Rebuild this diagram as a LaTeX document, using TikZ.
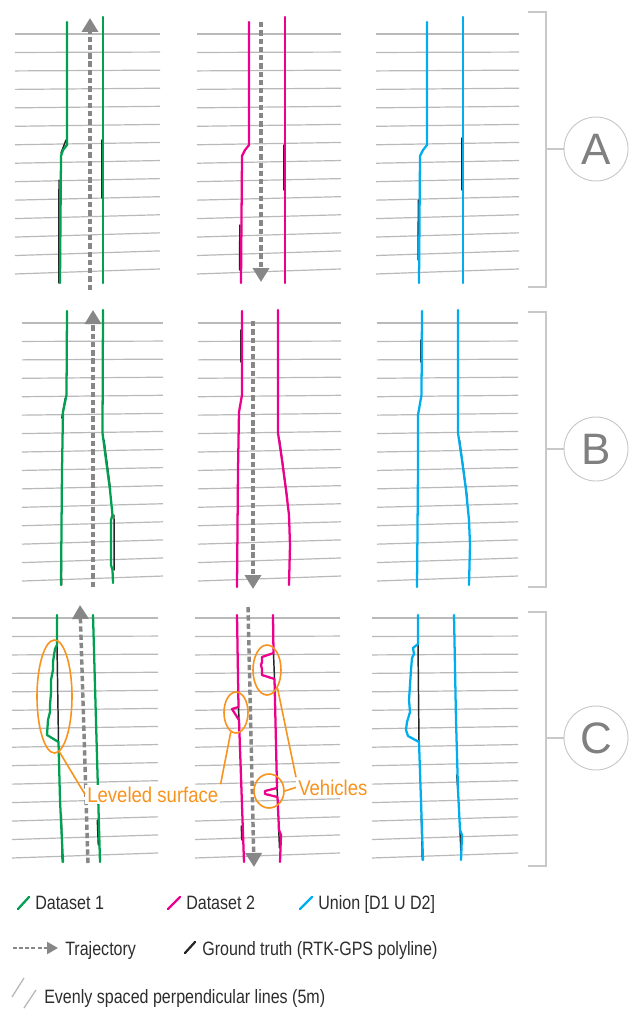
\documentclass[tikz,border=0pt]{standalone}
\usepackage{fontspec}
\setmainfont{Liberation Sans}
\newfontfamily\legfont[FakeStretch=0.83]{Liberation Sans}
\newfontfamily\labfont[FakeStretch=0.87]{Liberation Sans}
\usetikzlibrary{arrows.meta,shapes.geometric}
\definecolor{cgreen}{RGB}{0,160,80}
\definecolor{cmag}{RGB}{236,0,140}
\definecolor{cblue}{RGB}{0,174,239}
\definecolor{corange}{RGB}{247,147,30}
\definecolor{cgrid}{RGB}{185,185,185}
\definecolor{ctraj}{RGB}{135,135,135}
\definecolor{ctext}{RGB}{45,45,45}
\definecolor{cletter}{RGB}{128,128,128}
\definecolor{cbrk}{RGB}{200,200,200}
\newcommand{\gridrows}[5]{%
  \foreach \i in {0,...,#4} {\draw[gridl] (#1,{#3+#5*\i}) -- (#2,{#3+#5*\i-5*\i/#4});}}
\tikzset{
  gridl/.style={draw=cgrid, line width=0.9pt},
  trk/.style={line width=1.7pt, line join=round, line cap=round},
  gtrk/.style={trk, draw=cgreen},
  mtrk/.style={trk, draw=cmag},
  btrk/.style={trk, draw=cblue},
  gt/.style={draw=black!85, line width=1.1pt, line cap=round},
  traj/.style={draw=ctraj, line width=2.6pt, dash pattern=on 4pt off 2.2pt, -{Triangle[length=10.5pt,width=12pt]}},
  brk/.style={draw=cbrk, line width=0.8pt},
  circlab/.style={circle, draw=cbrk, line width=0.7pt, minimum size=48pt, inner sep=0pt, text=cletter, font=\fontsize{33pt}{36pt}\selectfont},
  oell/.style={ellipse, draw=corange, line width=1.2pt, inner sep=0pt},
  oline/.style={draw=corange, line width=1.2pt},
  lab/.style={text=corange, fill=white, inner sep=1.5pt, font=\labfont\fontsize{16pt}{19pt}\selectfont},
  leg/.style={text=ctext, inner sep=0pt, anchor=base west, font=\legfont\fontsize{14.5pt}{17pt}\selectfont},
  legsl/.style={line width=1.7pt, line cap=round},
}
\begin{document}
\begin{tikzpicture}[x=0.75pt,y=-0.75pt]
\useasboundingbox[fill=white] (0,0) rectangle (635,1024);

% ---------- grids ----------
\gridrows{15}{160}{34}{13}{18.46}
\gridrows{197}{341}{34}{13}{18.46}
\gridrows{376}{519}{34}{13}{18.46}
\gridrows{22}{163}{323}{14}{18.43}
\gridrows{198}{341}{323}{14}{18.43}
\gridrows{377}{518}{323}{14}{18.43}
\gridrows{12}{158}{618}{13}{18.46}
\gridrows{195}{340}{618}{13}{18.46}
\gridrows{372}{518}{618}{13}{18.46}

% ---------- panel A ----------
\draw[gt] (66,140) -- (61,153);
\draw[gt] (59,180) -- (58.8,283);
\draw[gt] (101.6,140) -- (101.6,198);
\draw[gtrk] (67,22) -- (67,145) -- (63,150) -- (61,156) -- (60,283);
\draw[gtrk] (103,17) -- (103,283);
\draw[gt] (239.8,225) -- (239.6,270);
\draw[gt] (283.8,145) -- (283.8,190);
\draw[mtrk] (249,22) -- (249,145) -- (245,150) -- (242,156) -- (241,283);
\draw[mtrk] (285,17) -- (285,283);
\draw[gt] (418.3,200) -- (418.1,260);
\draw[gt] (461.8,138) -- (461.8,190);
\draw[btrk] (427,22) -- (427,145) -- (423,150) -- (420,156) -- (419,283);
\draw[btrk] (463,17) -- (463,283);

% ---------- panel B ----------
\draw[gt] (65.3,398) -- (61.8,418);
\draw[gt] (61.3,560) -- (61.6,585);
\draw[gt] (104,440) -- (110.5,490);
\draw[gt] (114,515) -- (114.2,570);
\draw[gtrk] (67,311) -- (66.5,395) -- (63,412) -- (62,470) -- (61,585);
\draw[gtrk] (103,310) -- (102.5,433) -- (106,460) -- (110,490) -- (112.5,515) -- (111,520) -- (111,565) -- (112.5,570) -- (113,583);
\draw[gt] (240.8,330) -- (240.8,362);
\draw[gt] (279.5,440) -- (287.5,500);
\draw[mtrk] (242,311) -- (242,395) -- (239,412) -- (238,470) -- (237,587);
\draw[mtrk] (278,310) -- (278,433) -- (282,460) -- (286,490) -- (289,515) -- (290,545) -- (289,585);
\draw[gt] (420.8,340) -- (420.8,362);
\draw[gt] (459.5,440) -- (467.5,500);
\draw[btrk] (422,311) -- (421.5,395) -- (418,415) -- (418,470) -- (417,587);
\draw[btrk] (458,310) -- (458,433) -- (462,460) -- (466,490) -- (469,520) -- (470,545) -- (469,585);

% ---------- panel C ----------
\draw[gt] (57,645) -- (58.5,742);
\draw[gt] (61.3,815) -- (62.3,862);
\draw[gt] (97.3,820) -- (98.3,845);
\draw[gtrk] (57,615) -- (57,645) -- (55,649) -- (54,655) -- (53,662) -- (53,670) -- (51,680) -- (51,693) -- (50,705) -- (50,712) -- (48,720) -- (47,735) -- (58.5,742) -- (60,800) -- (63,862);
\draw[gtrk] (93,615) -- (100,862);
\draw[gt] (238.5,707) -- (239,720);
\draw[gt] (241.3,826) -- (241.8,840);
\draw[gt] (273.5,653) -- (274.5,679);
\draw[gt] (277,786) -- (277.5,797);
\draw[gt] (278.5,825) -- (279.5,848);
\draw[mtrk] (237,615) -- (238.5,707) -- (232,709) -- (239,720) -- (244,862);
\draw[mtrk] (273,615) -- (273.5,653) -- (262,657) -- (262,662) -- (261,665) -- (262,669) -- (262,675) -- (274.5,679) -- (277,788) -- (265,791) -- (265,794) -- (277.5,797) -- (279,830) -- (281,835) -- (280,862);
\draw[gt] (418,644) -- (419,742);
\draw[gt] (421.3,815) -- (422.3,860);
\draw[gt] (456.8,775) -- (457.8,790);
\draw[gt] (460,830) -- (461,855);
\draw[btrk] (418,615) -- (418,644) -- (413,648) -- (414,654) -- (412,658) -- (411,670) -- (410,685) -- (409,700) -- (410,712) -- (407,722) -- (406,730) -- (408,736) -- (419,742) -- (423,860);
\draw[btrk] (454,615) -- (456,720) -- (458,790) -- (460,830) -- (462,835) -- (461,860);

% ---------- trajectories ----------
\coordinate (tA1s) at (90,290);  \coordinate (tA1e) at (90,18);
\coordinate (tA2s) at (261,22);  \coordinate (tA2e) at (261,282);
\coordinate (tB1s) at (93,587);  \coordinate (tB1e) at (93,310);
\coordinate (tB2s) at (253,321); \coordinate (tB2e) at (253,589);
\coordinate (tC1s) at (88,863);  \coordinate (tC1e) at (80,605);
\coordinate (tC2s) at (248,607); \coordinate (tC2e) at (254,867);
\draw[traj] (tA1s) -- (tA1e);
\draw[traj] (tA2s) -- (tA2e);
\draw[traj] (tB1s) -- (tB1e);
\draw[traj] (tB2s) -- (tB2e);
\draw[traj] (tC1s) -- (tC1e);
\draw[traj] (tC2s) -- (tC2e);

% ---------- brackets and circles ----------
\node[circlab] (cA) at (596,149) {A};
\node[circlab] (cB) at (596,449) {B};
\node[circlab] (cC) at (596,738) {C};
\draw[brk] (528,12) -- (546,12) -- (546,287) -- (528,287);
\draw[brk] (528,312) -- (546,312) -- (546,587) -- (528,587);
\draw[brk] (528,612) -- (546,612) -- (546,866) -- (528,866);
\coordinate (bA) at (546,149);
\coordinate (bB) at (546,449);
\coordinate (bC) at (546,738);
\draw[brk] (bA) -- (cA);
\draw[brk] (bB) -- (cB);
\draw[brk] (bC) -- (cC);

% ---------- annotations ----------
\node[oell, minimum width=26.25pt, minimum height=84.75pt] (e1) at (54.5,696.5) {};
\node[oell, minimum width=18pt, minimum height=30.75pt] (e2) at (236,712.5) {};
\node[oell, minimum width=21pt, minimum height=37.5pt] (e3) at (267,670) {};
\node[oell, minimum width=22.5pt, minimum height=25.5pt] (e4) at (269,791) {};
\node[lab, anchor=base west] (lev) at (85,802) {Leveled surface};
\node[lab, anchor=base west] (veh) at (296,795) {Vehicles};
\draw[oline] (e1.-85) -- (lev.west);
\draw[oline] (e2.-105) -- (lev.north east);
\draw[oline] (e3.-60) -- (veh.north west);
\draw[oline] (e4.east) -- (veh.west);

% ---------- legend ----------
\draw[legsl, draw=cgreen] (18,909) -- (29,897);
\node[leg] (l1) at (35,909.5) {Dataset 1};
\draw[legsl, draw=cmag] (168,909) -- (180,897);
\node[leg] (l2) at (186,909.5) {Dataset 2};
\draw[legsl, draw=cblue] (300,909) -- (312,897);
\node[leg] (l3) at (318,909.5) {Union [D1 U D2]};
\coordinate (ltrs) at (13,948); \coordinate (ltre) at (58,948);
\draw[draw=ctraj, line width=1.6pt, dash pattern=on 3pt off 1.6pt, -{Triangle[length=8.25pt,width=9pt]}] (ltrs) -- (ltre);
\node[leg] (l4) at (65,955) {Trajectory};
\draw[legsl, draw=black!85] (185,953) -- (195,942);
\node[leg] (l5) at (202,955) {Ground truth (RTK-GPS polyline)};
\draw[draw=cgrid, line width=1pt] (12,997) -- (24,978);
\draw[draw=cgrid, line width=1pt] (24,1008) -- (36,990);
\node[leg] (l6) at (44,1003) {Evenly spaced perpendicular lines (5m)};
\end{tikzpicture}
\end{document}
